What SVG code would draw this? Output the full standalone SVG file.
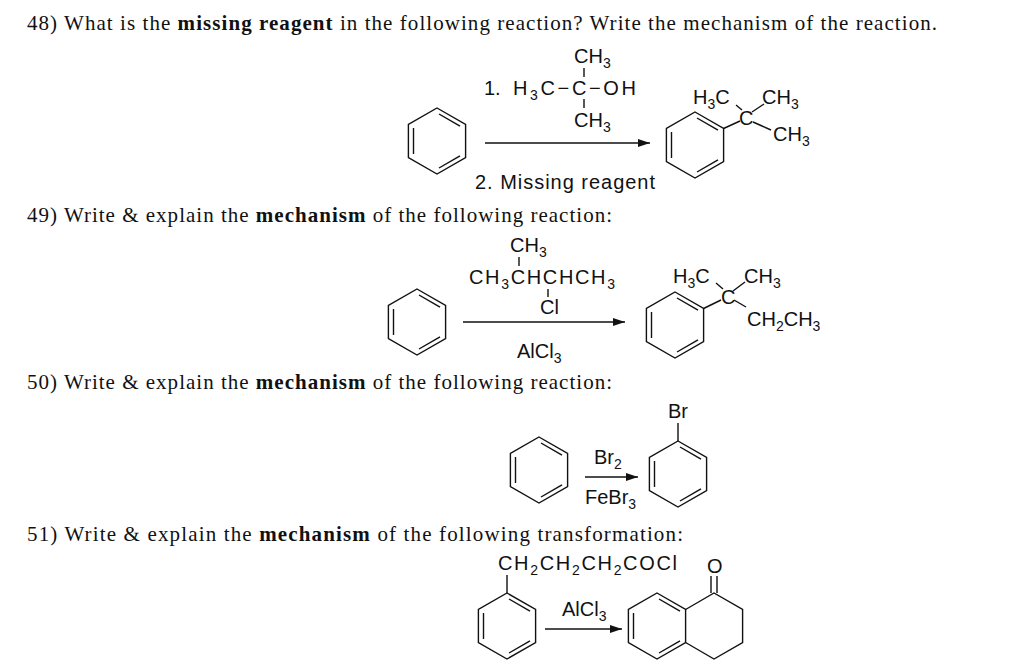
<svg xmlns="http://www.w3.org/2000/svg" xmlns:xlink="http://www.w3.org/1999/xlink" width="1024" height="672" viewBox="0 0 1024 672">
<style>
.t{font-family:"Liberation Serif",serif;font-size:21px;fill:#111}
.c{font-family:"Liberation Sans",Arial,sans-serif;font-size:20px;fill:#111}
.s{font-size:14px}
.b{stroke:#111;stroke-width:1.4;fill:none}
</style>
<defs>
<g id="bz" class="b">
<polygon points="0,-33 28.6,-16.5 28.6,16.5 0,33 -28.6,16.5 -28.6,-16.5"/>
<line x1="2" y1="-27" x2="23" y2="-14.8"/>
<line x1="23" y1="14.8" x2="2" y2="27"/>
<line x1="-23.5" y1="-13" x2="-23.5" y2="13"/>
</g>
<marker id="ar" viewBox="0 0 12 8" refX="12" refY="4" markerWidth="12" markerHeight="8" markerUnits="userSpaceOnUse" orient="auto"><path d="M0,0L12,4L0,8z" fill="#111"/></marker>
</defs>
<rect width="1024" height="672" fill="#fff"/>
<g id="titles">
<text class="t" x="27" y="30" textLength="910">48) What is the <tspan font-weight="bold">missing reagent</tspan> in the following reaction? Write the mechanism of the reaction.</text>
<text class="t" x="27" y="222" textLength="585">49) Write &amp; explain the <tspan font-weight="bold">mechanism</tspan> of the following reaction:</text>
<text class="t" x="27" y="389" textLength="585">50) Write &amp; explain the <tspan font-weight="bold">mechanism</tspan> of the following reaction:</text>
<text class="t" x="27" y="541" textLength="656">51) Write &amp; explain the <tspan font-weight="bold">mechanism</tspan> of the following transformation:</text>
</g>
<g id="r48">
<use xlink:href="#bz" x="437" y="141"/>
<text class="c" x="574" y="63">CH<tspan class="s" dy="5">3</tspan></text>
<text class="c" x="484" y="95">1.  </text>
<text class="c" x="513" y="95" textLength="123">H<tspan class="s" dy="5">3</tspan><tspan dy="-5">C−C−OH</tspan></text>
<text class="c" x="574" y="127">CH<tspan class="s" dy="5">3</tspan></text>
<line class="b" x1="584" y1="68" x2="584" y2="77"/>
<line class="b" x1="584" y1="99" x2="584" y2="108"/>
<text class="c" x="475" y="189" textLength="180">2. Missing reagent</text>
<use xlink:href="#bz" x="695" y="145"/>
<line class="b" x1="723.6" y1="128.5" x2="740" y2="121"/>
<text class="c" x="739" y="125" font-size="17">C</text>
<text class="c" x="693" y="104">H<tspan class="s" dy="5">3</tspan><tspan dy="-5">C</tspan></text>
<text class="c" x="762" y="104">CH<tspan class="s" dy="5">3</tspan></text>
<text class="c" x="773" y="141">CH<tspan class="s" dy="5">3</tspan></text>
<line class="b" x1="736" y1="105" x2="742" y2="110"/>
<line class="b" x1="752" y1="112" x2="764" y2="104"/>
<line class="b" x1="753" y1="122" x2="771" y2="130"/>
</g>
<g id="r49">
<use xlink:href="#bz" x="417" y="322"/>
<text class="c" x="510" y="252">CH<tspan class="s" dy="5">3</tspan></text>
<line class="b" x1="519" y1="257" x2="519" y2="266"/>
<text class="c" x="469" y="284" textLength="146">CH<tspan class="s" dy="5">3</tspan><tspan dy="-5">CHCHCH</tspan><tspan class="s" dy="5">3</tspan></text>
<line class="b" x1="548" y1="289" x2="548" y2="297"/>
<text class="c" x="540" y="314">Cl</text>
<text class="c" x="517" y="358">AlCl<tspan class="s" dy="5">3</tspan></text>
<use xlink:href="#bz" x="675" y="325"/>
<line class="b" x1="703.6" y1="308.5" x2="721" y2="300"/>
<text class="c" x="721" y="304" font-size="17">C</text>
<text class="c" x="673" y="283">H<tspan class="s" dy="5">3</tspan><tspan dy="-5">C</tspan></text>
<text class="c" x="744" y="283">CH<tspan class="s" dy="5">3</tspan></text>
<text class="c" x="747" y="326">CH<tspan class="s" dy="5">2</tspan><tspan dy="-5">CH</tspan><tspan class="s" dy="5">3</tspan></text>
<line class="b" x1="716" y1="283" x2="723" y2="289"/>
<line class="b" x1="733" y1="291" x2="745" y2="282"/>
<line class="b" x1="734" y1="300" x2="746" y2="307"/>
</g>
<g id="r50">
<use xlink:href="#bz" x="539" y="470"/>
<use xlink:href="#bz" x="678" y="474"/>
<line class="b" x1="678" y1="441" x2="678" y2="423"/>
<text class="c" x="668" y="418">Br</text>
<text class="c" x="594" y="464">Br<tspan class="s" dy="5">2</tspan></text>
<text class="c" x="585" y="504">FeBr<tspan class="s" dy="5">3</tspan></text>
</g>
<g id="r51">
<use xlink:href="#bz" x="507" y="626"/>
<line class="b" x1="507" y1="593" x2="507" y2="575"/>
<text class="c" x="498" y="570" textLength="179">CH<tspan class="s" dy="5">2</tspan><tspan dy="-5">CH</tspan><tspan class="s" dy="5">2</tspan><tspan dy="-5">CH</tspan><tspan class="s" dy="5">2</tspan><tspan dy="-5">COCl</tspan></text>
<text class="c" x="562" y="616">AlCl<tspan class="s" dy="5">3</tspan></text>
<use xlink:href="#bz" x="657" y="626"/>
<polyline class="b" points="685.6,609.5 714,593 742.6,609.5 742.6,642.5 714,659 685.6,642.5"/>
<line class="b" x1="711" y1="593" x2="711" y2="576"/>
<line class="b" x1="717" y1="593" x2="717" y2="576"/>
<text class="c" x="707" y="573">O</text>
</g>
<g id="connectors" class="b">
<line x1="485" y1="143" x2="650" y2="143" marker-end="url(#ar)"/>
<line x1="463" y1="322" x2="625" y2="322" marker-end="url(#ar)"/>
<line x1="585" y1="477" x2="638" y2="477" marker-end="url(#ar)"/>
<line x1="545" y1="629" x2="622" y2="629" marker-end="url(#ar)"/>
</g>
</svg>
